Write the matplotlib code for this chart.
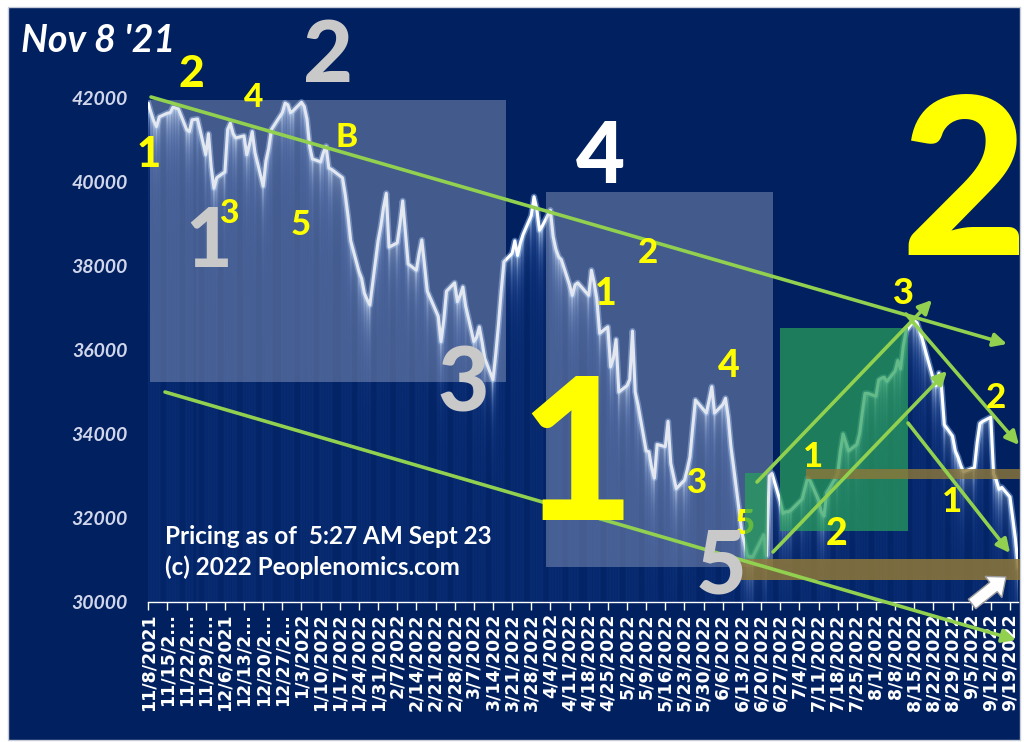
import numpy as np
import pandas as pd
import matplotlib
matplotlib.use("Agg")
import matplotlib.pyplot as plt
import matplotlib.dates as mdates
from matplotlib.patches import Rectangle, FancyArrow
from matplotlib.transforms import Affine2D

plt.rcParams['font.family'] = ['Lato', 'DejaVu Sans']

# ---------------- data ----------------
holidays = ["2021-11-25", "2021-12-24", "2022-01-17", "2022-02-21", "2022-04-15",
            "2022-05-30", "2022-06-20", "2022-07-04", "2022-09-05"]
dates = pd.bdate_range("2021-11-08", "2022-09-22", freq="C", holidays=holidays)

closes_2021 = [
    41870, 41650, 41450, 41320, 41550,
    41640, 41650, 41780, 41760, 41740,
    41250, 41200, 41480, 41500,
    40650, 41150, 40350, 39850, 40100,
    40240, 41250, 41400, 41150, 41050,
    41100, 40650, 40900, 41200, 40700,
    39900, 40500, 40800, 41250,
    41650, 41880, 41840, 41650, 41700,
]
closes_q1_2022 = [
    41900, 41800, 41500, 40850, 40550,
    40480, 40700, 40850, 40333, 40300,
    40100, 39700, 39200, 38600,
    37870, 37700, 37350, 37200, 37071,
    38600, 38950, 39400, 39730, 38450,
    38550, 39000, 39550, 38800, 38050,
    37900, 38300, 38620, 38000, 37400,
    36800, 36200, 36700, 37400,
    37600, 37150, 37300, 37500, 37050,
    36200, 36300, 36550, 36200, 35800,
    35290, 35900, 36600, 37400, 38100,
    38300, 38600, 38250, 38550, 38750,
    39200, 39650, 39370, 38850, 38950,
]
closes_q2_2022 = [
    39330, 38700, 38400, 38220, 38150,
    37550, 37300, 37550, 37600,
    37300, 37900, 37600, 37200, 36400,
    36550, 35600, 35800, 36250, 35000,
    35150, 35300, 36450, 35000, 34700,
    33600, 33580, 33200, 32950, 33750,
    33700, 34300, 33300, 33000, 32700,
    32900, 33150, 33450, 34150, 34810,
    34500, 34800, 35127, 34500,
    34700, 34850, 34400, 33700, 33200,
    31650, 31400, 31100, 31080, 31080,
    31600, 31100, 33000, 33060,
]
closes_q3_2022 = [
    32400, 32110, 32150, 32150, 32190,
    32450, 32700, 32950, 32880,
    32430, 32150, 32050, 32600, 32700,
    33050, 33600, 34000, 33800, 33600,
    33750, 34000, 34500, 34968, 34968,
    34900, 35286, 35330, 35350, 35250,
    35500, 35750, 35550, 36100, 36450,
    36700, 36650, 36450, 36250, 36000,
    35300, 35150, 35450, 35100, 34220,
    33950, 33600, 33450, 33250, 33100,
    33200, 33800, 34250, 34300,
    34400, 33050, 32900, 32680, 32730,
    32500, 32000, 31500, 30841,
]
closes = np.array(closes_2021 + closes_q1_2022 + closes_q2_2022 + closes_q3_2022, dtype=float)
n = min(len(dates), len(closes))
dates = dates[:n]
closes = closes[:n]

tick_dates = pd.date_range("2021-11-08", "2022-09-19", freq="7D")
tick_labels = ["11/8/2021", "11/15/2...", "11/22/2...", "11/29/2...", "12/6/2021",
               "12/13/2...", "12/20/2...", "12/27/2...", "1/3/2022", "1/10/2022",
               "1/17/2022", "1/24/2022", "1/31/2022", "2/7/2022", "2/14/2022",
               "2/21/2022", "2/28/2022", "3/7/2022", "3/14/2022", "3/21/2022",
               "3/28/2022", "4/4/2022", "4/11/2022", "4/18/2022", "4/25/2022",
               "5/2/2022", "5/9/2022", "5/16/2022", "5/23/2022", "5/30/2022",
               "6/6/2022", "6/13/2022", "6/20/2022", "6/27/2022", "7/4/2022",
               "7/11/2022", "7/18/2022", "7/25/2022", "8/1/2022", "8/8/2022",
               "8/15/2022", "8/22/2022", "8/29/2022", "9/5/2022", "9/12/2022",
               "9/19/2022"]
y_ticks = [30000, 32000, 34000, 36000, 38000, 40000, 42000]

# ---------------- figure ----------------
W, H = 1024, 742
fig = plt.figure(figsize=(W / 100, H / 100), dpi=100)
fig.patch.set_facecolor("white")
pix = Affine2D().scale(1 / W, -1 / H).translate(0, 1) + fig.transFigure

NAVY = "#002060"
fig.add_artist(Rectangle((8, 7), 1012, 733, transform=pix, facecolor=NAVY,
                         edgecolor="#c8ccd8", lw=1, zorder=-10))

x_left, x_right, y_top, y_bot = 148.3, 1018.2, 98.0, 602.0
ax = fig.add_axes([x_left / W, 1 - y_bot / H, (x_right - x_left) / W, (y_bot - y_top) / H])
ax.set_facecolor("none")

xnum = mdates.date2num(dates)
x0, x1 = mdates.date2num(pd.Timestamp("2021-11-08")), mdates.date2num(pd.Timestamp("2022-09-22"))
ax.set_xlim(x0, x1)
ax.set_ylim(30000, 42000)

# gradient "bars" under the line
gx = np.linspace(x0, x1, 1600)
gy = np.linspace(30000, 42000, 800)
v = np.interp(gx, xnum, closes)
D = v[None, :] - gy[:, None]
inside = (D >= 0).astype(float)
near = np.abs(gx[:, None] - xnum[None, :]).min(axis=1)
stripe = 0.35 + 0.65 * np.exp(-(near / 0.45) ** 2)
glow = np.exp(-np.clip(D, 0, None) / 650.0)
light = np.array([0.88, 0.95, 1.0])
deep = np.array([0.22, 0.42, 0.85])
rgb = deep[None, None, :] + (light - deep)[None, None, :] * glow[..., None]
alpha = inside * stripe[None, :] * (0.16 + 0.80 * glow)
img = np.dstack([rgb, np.clip(alpha, 0, 1)])
ax.imshow(img, extent=[x0, x1, 30000, 42000], origin="lower", aspect="auto",
          interpolation="bilinear", zorder=2)

# glowing white line
ax.plot(dates, closes, color="#9fc8ff", lw=4.5, alpha=0.45, zorder=3, solid_joinstyle="round")
ax.plot(dates, closes, color="white", lw=2.2, zorder=3.2, solid_joinstyle="round")

# axes styling
for s in ["left", "right", "top"]:
    ax.spines[s].set_visible(False)
ax.spines["bottom"].set_color("white")
ax.spines["bottom"].set_linestyle((0, (1, 1)))
ax.spines["bottom"].set_linewidth(1.0)
ax.set_yticks(y_ticks)
ax.set_yticklabels([str(t) for t in y_ticks])
ax.tick_params(axis="y", length=0, pad=15, labelcolor="#d2d6ea", labelsize=14)
for lab in ax.get_yticklabels():
    lab.set_fontweight("bold")
    lab.set_fontstyle("italic")
ax.set_xticks(mdates.date2num(tick_dates))
ax.set_xticklabels(tick_labels, rotation=90, family="DejaVu Sans", fontweight="bold",
                   fontsize=12.5, color="white")
ax.tick_params(axis="x", direction="out", length=6, width=1, color="white", pad=2)

# ---------------- overlays (positions in figure pixels) ----------------
def box(x0_, y0_, x1_, y1_, color, a, z):
    ax.add_patch(Rectangle((x0_, y0_), x1_ - x0_, y1_ - y0_, transform=pix,
                           facecolor=color, edgecolor="none", alpha=a, zorder=z, clip_on=False))

box(150, 100, 506, 382, "#b4bed8", 0.37, 4)
box(546, 192, 773, 567, "#b4bed8", 0.37, 4)

YEL = "#ffff00"
GRY = "#c9c9c9"

def txt(x, y, s, size, color, z=6, style="normal", weight=900):
    ax.text(x, y, s, transform=pix, fontsize=size, color=color, fontweight=weight,
            ha="center", va="baseline", zorder=z, fontstyle=style, clip_on=False)

txt(745, 534, "5", 25, YEL, z=4.2)
box(745, 473, 767, 559, "#28a05a", 0.72, 4.5)
box(780, 328, 908, 531, "#28a05a", 0.72, 4.5)
box(740, 559, 1020, 580, "#8f7838", 0.85, 4.6)
box(806, 469, 1020, 479, "#8f7838", 0.80, 4.6)

# green trend lines / arrows
GRN = "#92d050"
def arrow(p0, p1):
    ax.annotate("", xy=p1, xytext=p0, xycoords=pix, textcoords=pix,
                arrowprops=dict(arrowstyle="-|>", color=GRN, lw=2.6,
                                mutation_scale=20, shrinkA=0, shrinkB=0),
                annotation_clip=False, zorder=5)

arrow((151, 97), (1007, 344))
arrow((165, 392), (1016, 640))
arrow((906, 314), (1019, 445))
arrow((757, 482), (932, 300))
arrow((773, 552), (947, 371))
arrow((908, 423), (1010, 553))

ax.add_patch(FancyArrow(972, 604, 34, -27, width=12, head_width=27, head_length=16,
                        length_includes_head=True, transform=pix, facecolor="white",
                        edgecolor="#9a9a9a", lw=1, zorder=6, clip_on=False))

# labels
txt(98, 52, "Nov 8 '21", 27, "white", style="italic", weight="bold")
for (x, y, s, sz) in [(149, 167, "1", 30), (191, 87, "2", 32), (254, 107, "4", 24),
                      (229, 223, "3", 24), (301, 235, "5", 25), (347, 147, "B", 24),
                      (648, 263, "2", 25), (606, 305, "1", 27), (729, 377, "4", 27),
                      (697, 493, "3", 25), (903, 304, "3", 26), (996, 408, "2", 25),
                      (813, 467, "1", 25), (837, 545, "2", 27), (952, 512, "1", 25)]:
    txt(x, y, s, sz, YEL)
txt(328, 82, "2", 62, GRY)
txt(209, 267, "1", 58, GRY)
txt(463, 412, "3", 64, GRY)
txt(721, 593, "5", 63, GRY)
txt(601, 183, "4", 61, "white")
txt(577, 520, "1", 143, YEL)
txt(964, 255, "2", 158, YEL)

ax.text(165, 544, "Pricing as of  5:27 AM Sept 23", transform=pix, fontsize=17.5,
        color="white", fontweight="bold", ha="left", va="baseline", zorder=6)
ax.text(165, 575, "(c) 2022 Peoplenomics.com", transform=pix, fontsize=17.5,
        color="white", fontweight="bold", ha="left", va="baseline", zorder=6)

fig.savefig("out.png", dpi=100, facecolor=fig.get_facecolor())
